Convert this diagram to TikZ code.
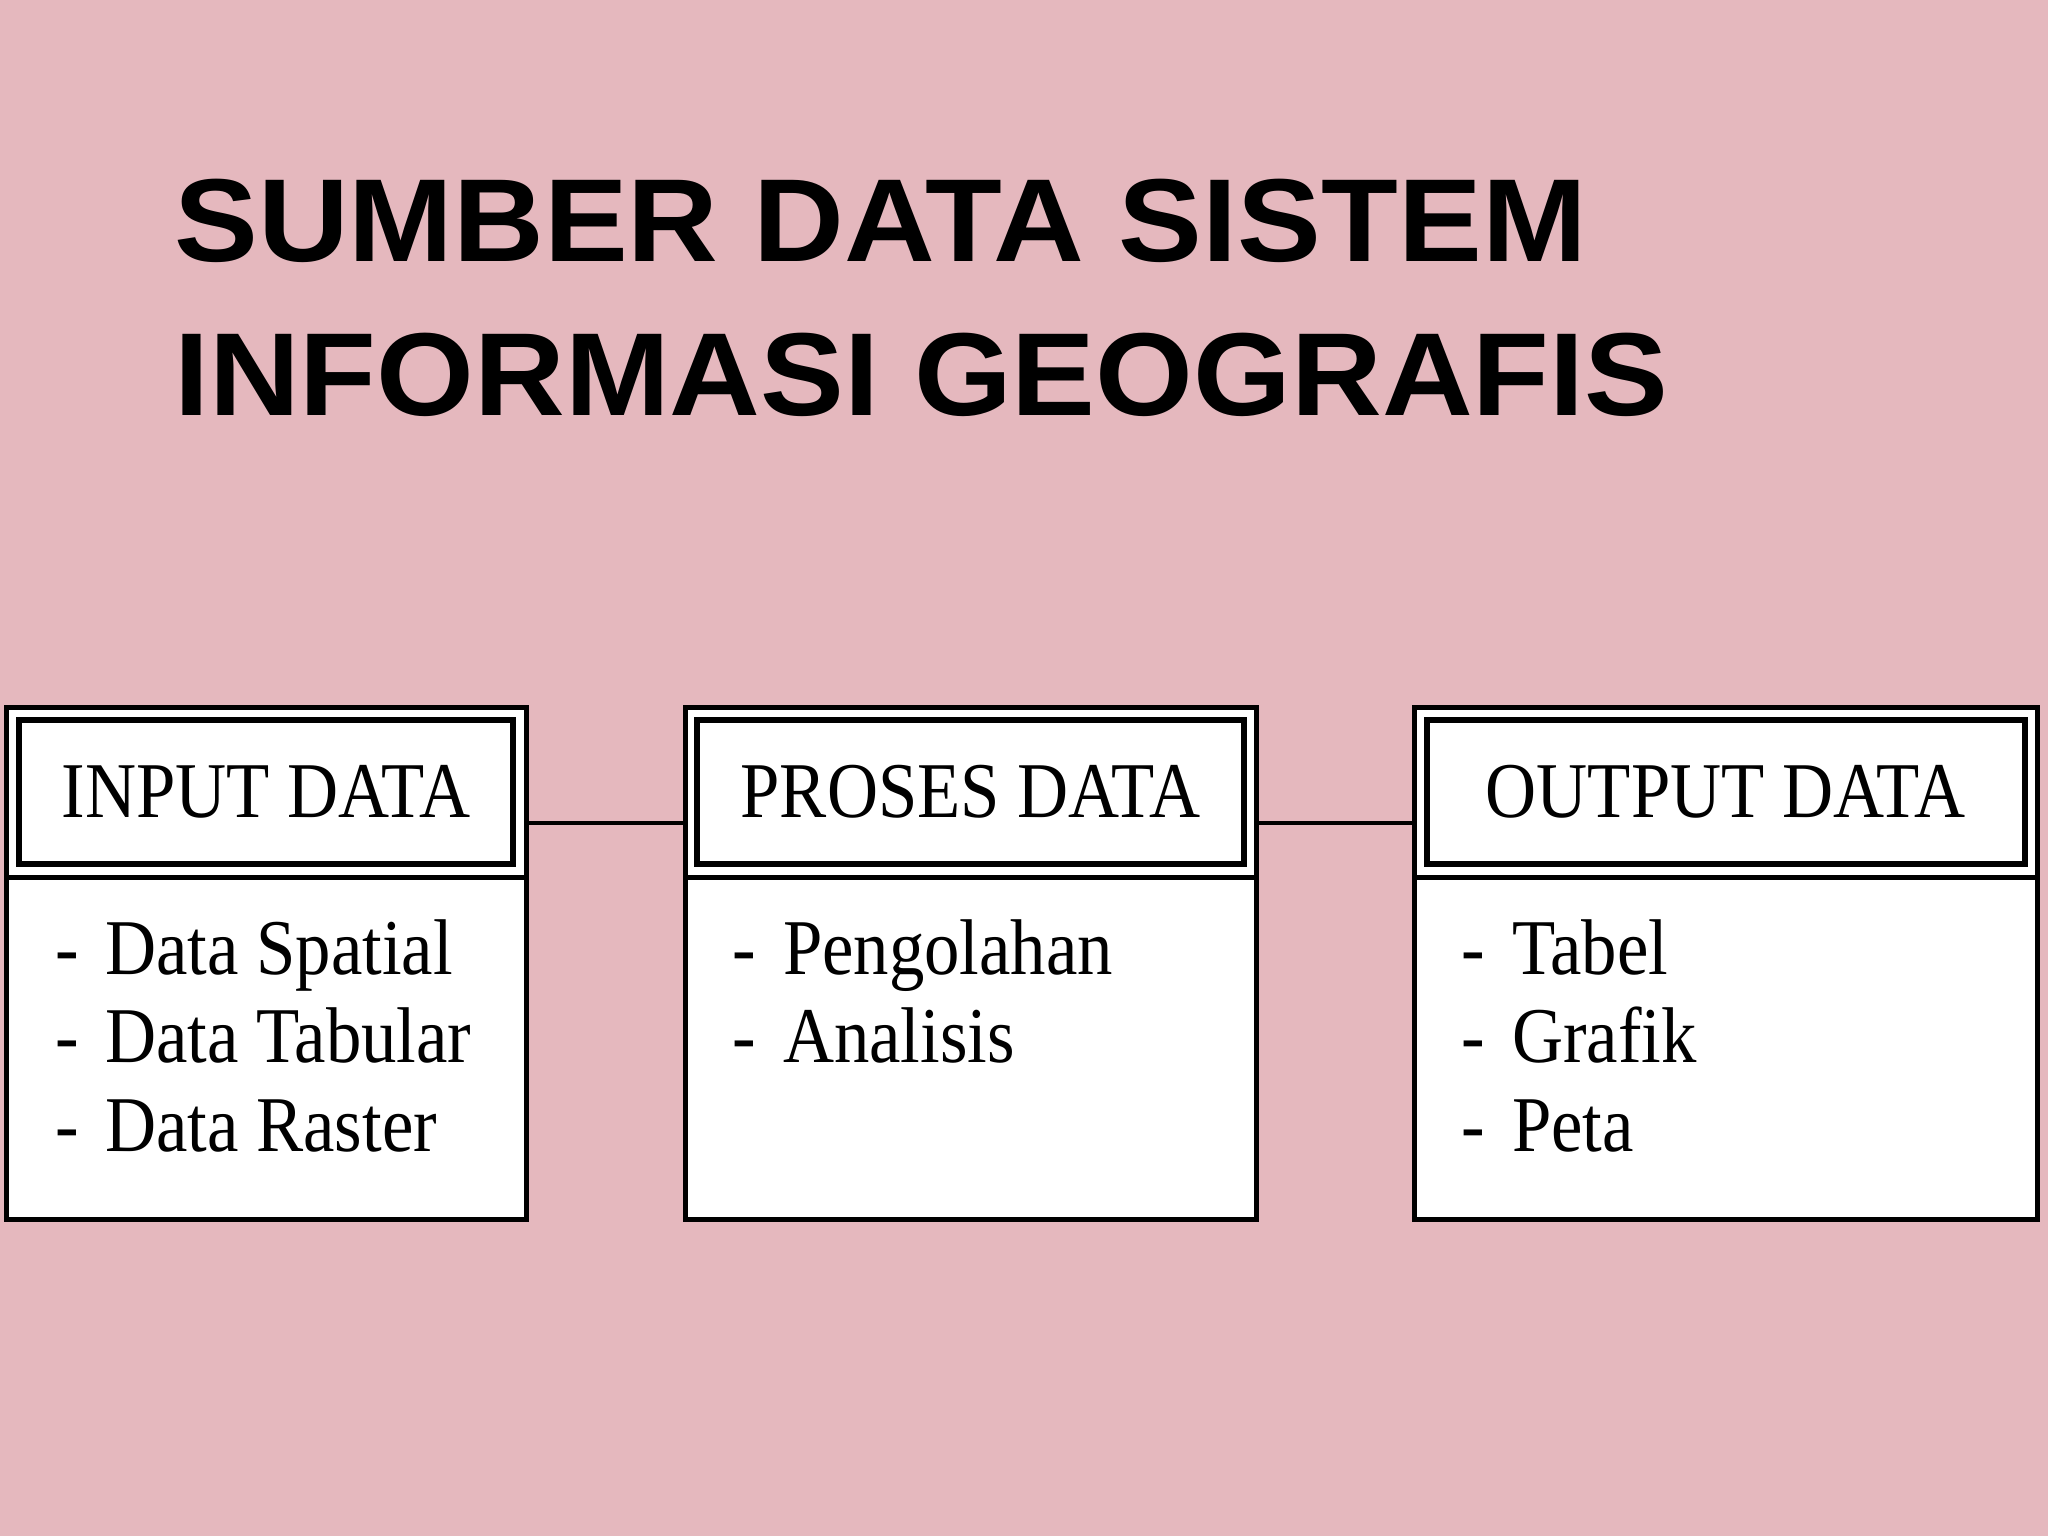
\documentclass[tikz,border=0pt]{standalone}
\usepackage{fontspec}
\usepackage{tikz}
\usetikzlibrary{%
  positioning,%
  calc%
}
\setmainfont[FakeStretch=0.895]{Liberation Serif}
\newfontfamily\titlefont[FakeStretch=1.065]{Liberation Sans}
\definecolor{kertas}{RGB}{229,184,190}

\tikzset{
  frame/.style={draw,fill=white,line width=5pt,inner sep=0pt,outer sep=0pt,minimum height=170pt},
  headbox/.style={draw,fill=white,line width=6pt,inner sep=0pt,outer sep=0pt,minimum height=144pt,
    font=\fontsize{79}{90}\selectfont},
  bodybox/.style={draw,fill=white,line width=5pt,inner sep=0pt,outer sep=0pt,minimum height=342pt},
  item/.style={anchor=base west,inner sep=0pt,font=\fontsize{79}{90}\selectfont},
  judul/.style={anchor=base west,inner sep=0pt,font=\titlefont\bfseries\fontsize{118}{130}\selectfont},
  link/.style={line width=4pt}
}

\begin{document}
\begin{tikzpicture}[x=1pt,y=-1pt]
  \fill[kertas] (0,0) rectangle (2048,1536);
  \useasboundingbox (0,0) rectangle (2048,1536);

  \node[judul] (judul1) at (174,261) {SUMBER DATA SISTEM};
  \node[judul] (judul2) at (174,415) {INFORMASI GEOGRAFIS};

  % input
  \node[frame,minimum width=520pt] (in-frame) at (266,792) {};
  \node[headbox,minimum width=494pt] (in-head) at (in-frame) {INPUT DATA};
  \node[bodybox,minimum width=520pt,below=0pt of in-frame] (in-body) {};
  \node[item] (in-1) at ([xshift=49pt,yshift=-97pt]in-body.north west) {\makebox[50pt][l]{-}Data Spatial};
  \node[item] (in-2) at ([yshift=-88.5pt]in-1.base west) {\makebox[50pt][l]{-}Data Tabular};
  \node[item] (in-3) at ([yshift=-88.5pt]in-2.base west) {\makebox[50pt][l]{-}Data Raster};

  % proses
  \node[frame,minimum width=571pt] (pro-frame) at (970.5,792) {};
  \node[headbox,minimum width=547pt] (pro-head) at (pro-frame) {PROSES DATA};
  \node[bodybox,minimum width=571pt,below=0pt of pro-frame] (pro-body) {};
  \node[item] (pro-1) at ([xshift=47pt,yshift=-97pt]pro-body.north west) {\makebox[51pt][l]{-}Pengolahan};
  \node[item] (pro-2) at ([yshift=-88.5pt]pro-1.base west) {\makebox[51pt][l]{-}Analisis};

  % output
  \node[frame,minimum width=623pt] (out-frame) at (1725.5,792) {};
  \node[headbox,minimum width=598pt] (out-head) at (out-frame) {OUTPUT DATA};
  \node[bodybox,minimum width=623pt,below=0pt of out-frame] (out-body) {};
  \node[item] (out-1) at ([xshift=47pt,yshift=-97pt]out-body.north west) {\makebox[51pt][l]{-}Tabel};
  \node[item] (out-2) at ([yshift=-88.5pt]out-1.base west) {\makebox[51pt][l]{-}Grafik};
  \node[item] (out-3) at ([yshift=-88.5pt]out-2.base west) {\makebox[51pt][l]{-}Peta};

  \draw[link] ([yshift=-31pt]in-frame.east) -- ([yshift=-31pt]pro-frame.west);
  \draw[link] ([yshift=-31pt]pro-frame.east) -- ([yshift=-31pt]out-frame.west);
\end{tikzpicture}
\end{document}
